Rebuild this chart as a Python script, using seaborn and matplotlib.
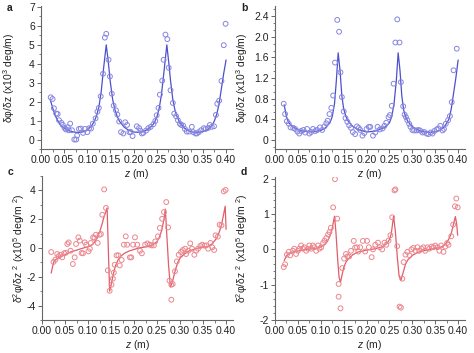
import matplotlib
matplotlib.use("Agg")
import matplotlib.pyplot as plt
import seaborn as sns
from matplotlib.ticker import MultipleLocator, AutoMinorLocator, FuncFormatter

sns.set_style("ticks")
plt.rcParams["font.family"] = ["Liberation Sans", "DejaVu Sans"]
plt.rcParams["mathtext.fontset"] = "custom"
plt.rcParams["mathtext.rm"] = "Liberation Sans"
plt.rcParams["mathtext.it"] = "Liberation Sans:italic"
plt.rcParams["axes.unicode_minus"] = False

BLUE_LINE = "#4f4fcc"
BLUE_MARK = "#8585e0"
RED_LINE = "#e25c6a"
RED_MARK = "#eb868d"

# ── panel a: first derivative, series 1 ──
a_z = [0.021, 0.025, 0.028, 0.033, 0.036, 0.039, 0.044, 0.047, 0.051, 0.054,
       0.058, 0.060, 0.063, 0.067, 0.072, 0.076, 0.078, 0.082, 0.086, 0.091,
       0.095, 0.100, 0.104, 0.108, 0.112, 0.118, 0.122, 0.125, 0.129, 0.134,
       0.138, 0.141, 0.146, 0.149, 0.153, 0.157, 0.162, 0.165, 0.169, 0.173,
       0.178, 0.182, 0.186, 0.191, 0.194, 0.198, 0.207, 0.212, 0.215, 0.218,
       0.221, 0.227, 0.232, 0.237, 0.243, 0.247, 0.250, 0.254, 0.257, 0.262,
       0.265, 0.269, 0.273, 0.276, 0.280, 0.285, 0.288, 0.292, 0.296, 0.300,
       0.303, 0.307, 0.311, 0.315, 0.320, 0.326, 0.329, 0.334, 0.337, 0.341,
       0.346, 0.352, 0.356, 0.361, 0.365, 0.369, 0.374, 0.378, 0.381, 0.385,
       0.390, 0.395, 0.399]
a_v = [2.23, 2.14, 1.65, 1.37, 1.35, 1.02, 0.88, 0.77, 0.61, 0.53,
       0.65, 0.49, 0.84, 0.49, 0.00, 0.00, 0.21, 0.56, 0.58, 0.35,
       0.56, 0.39, 0.60, 0.58, 0.84, 1.12, 1.47, 1.67, 2.28, 3.47,
       5.38, 5.58, 4.21, 3.33, 2.42, 1.79, 1.54, 1.32, 0.95, 0.39,
       0.32, 0.91, 0.77, 0.39, 0.40, 0.18, 0.70, 0.61, 0.47, 0.32,
       0.35, 0.47, 0.60, 0.67, 0.81, 0.98, 1.28, 1.67, 2.37, 3.11,
       4.21, 5.54, 5.30, 3.79, 2.60, 1.93, 1.37, 1.23, 1.02, 0.84,
       0.77, 0.74, 0.56, 0.42, 0.42, 0.67, 0.39, 0.32, 0.32, 0.39,
       0.49, 0.60, 0.56, 0.61, 0.77, 0.67, 0.70, 1.30, 1.89, 2.05,
       3.09, 4.98, 6.11]
a_fit_z = [0.020, 0.025, 0.030, 0.035, 0.040, 0.045, 0.050, 0.060, 0.070, 0.080,
           0.090, 0.100, 0.110, 0.115, 0.120, 0.125, 0.130, 0.135, 0.141, 0.145,
           0.150, 0.155, 0.160, 0.165, 0.170, 0.180, 0.190, 0.200, 0.210, 0.220,
           0.230, 0.240, 0.245, 0.250, 0.255, 0.260, 0.265, 0.272, 0.276, 0.280,
           0.285, 0.290, 0.295, 0.300, 0.310, 0.320, 0.330, 0.340, 0.350, 0.360,
           0.370, 0.375, 0.380, 0.385, 0.390, 0.395, 0.400]
a_fit_v = [2.10, 1.70, 1.30, 1.05, 0.85, 0.70, 0.60, 0.46, 0.40, 0.37,
           0.40, 0.50, 0.75, 0.95, 1.25, 1.70, 2.50, 3.70, 5.00, 4.20,
           3.00, 2.10, 1.55, 1.20, 0.95, 0.65, 0.48, 0.40, 0.38, 0.42,
           0.52, 0.72, 0.90, 1.15, 1.60, 2.30, 3.40, 5.00, 4.10, 3.10,
           2.10, 1.50, 1.15, 0.90, 0.60, 0.45, 0.38, 0.37, 0.42, 0.52,
           0.75, 1.00, 1.35, 1.90, 2.70, 3.50, 4.20]

# ── panel b: first derivative, series 2 ──
b_z = [0.019, 0.022, 0.026, 0.030, 0.034, 0.040, 0.044, 0.049, 0.053, 0.057,
       0.062, 0.066, 0.070, 0.075, 0.079, 0.083, 0.088, 0.092, 0.098, 0.103,
       0.108, 0.112, 0.115, 0.119, 0.123, 0.127, 0.131, 0.136, 0.140, 0.143,
       0.146, 0.150, 0.154, 0.158, 0.162, 0.166, 0.170, 0.175, 0.179, 0.183,
       0.186, 0.191, 0.195, 0.200, 0.205, 0.208, 0.214, 0.219, 0.224, 0.229,
       0.235, 0.239, 0.243, 0.248, 0.251, 0.255, 0.259, 0.263, 0.267, 0.272,
       0.275, 0.280, 0.283, 0.286, 0.289, 0.293, 0.296, 0.300, 0.304, 0.309,
       0.313, 0.317, 0.322, 0.326, 0.331, 0.335, 0.340, 0.344, 0.348, 0.353,
       0.357, 0.361, 0.366, 0.369, 0.373, 0.378, 0.382, 0.386, 0.390, 0.397]
b_v = [0.70, 0.50, 0.36, 0.31, 0.24, 0.23, 0.21, 0.16, 0.12, 0.17,
       0.19, 0.14, 0.21, 0.12, 0.15, 0.21, 0.17, 0.19, 0.24, 0.19,
       0.26, 0.32, 0.37, 0.50, 0.62, 0.86, 1.50, 2.33, 2.10, 1.31,
       0.83, 0.55, 0.42, 0.35, 0.28, 0.23, 0.15, 0.11, 0.26, 0.23,
       0.19, 0.08, 0.13, 0.21, 0.25, 0.25, 0.08, 0.14, 0.25, 0.20,
       0.22, 0.27, 0.33, 0.44, 0.48, 0.66, 1.09, 1.89, 2.34, 1.89,
       1.12, 0.65, 0.49, 0.44, 0.38, 0.31, 0.25, 0.19, 0.18, 0.18,
       0.19, 0.18, 0.14, 0.15, 0.12, 0.11, 0.14, 0.12, 0.17, 0.20,
       0.22, 0.27, 0.18, 0.21, 0.31, 0.38, 0.46, 0.73, 1.35, 1.77]
b_fit_z = [0.020, 0.025, 0.030, 0.040, 0.050, 0.060, 0.080, 0.100, 0.110, 0.120,
           0.125, 0.130, 0.134, 0.138, 0.142, 0.146, 0.150, 0.155, 0.160, 0.170,
           0.180, 0.200, 0.220, 0.240, 0.250, 0.255, 0.260, 0.265, 0.269, 0.273,
           0.277, 0.281, 0.285, 0.290, 0.300, 0.320, 0.340, 0.360, 0.370, 0.380,
           0.385, 0.390, 0.395, 0.400]
b_fit_v = [0.68, 0.45, 0.33, 0.24, 0.20, 0.17, 0.15, 0.18, 0.23, 0.33,
           0.45, 0.70, 1.15, 1.69, 1.35, 0.85, 0.60, 0.45, 0.36, 0.26,
           0.20, 0.15, 0.17, 0.24, 0.33, 0.45, 0.70, 1.15, 1.69, 1.35,
           0.85, 0.58, 0.45, 0.36, 0.25, 0.16, 0.14, 0.18, 0.25, 0.40,
           0.60, 0.90, 1.20, 1.55]

# ── panel c: second derivative, series 1 ──
c_z = [0.020, 0.025, 0.029, 0.033, 0.036, 0.040, 0.044, 0.048, 0.052, 0.055,
       0.058, 0.062, 0.067, 0.071, 0.074, 0.079, 0.082, 0.086, 0.089, 0.093,
       0.096, 0.101, 0.104, 0.106, 0.111, 0.114, 0.117, 0.121, 0.125, 0.128,
       0.131, 0.135, 0.139, 0.143, 0.147, 0.151, 0.154, 0.156, 0.158, 0.162,
       0.166, 0.169, 0.173, 0.178, 0.182, 0.185, 0.191, 0.194, 0.198, 0.202,
       0.207, 0.213, 0.217, 0.224, 0.229, 0.234, 0.238, 0.243, 0.246, 0.252,
       0.256, 0.261, 0.265, 0.270, 0.274, 0.277, 0.281, 0.281, 0.284, 0.289,
       0.293, 0.297, 0.302, 0.306, 0.311, 0.313, 0.318, 0.322, 0.326, 0.331,
       0.335, 0.339, 0.344, 0.348, 0.353, 0.357, 0.361, 0.366, 0.370, 0.374,
       0.377, 0.382, 0.386, 0.390, 0.395, 0.399]
c_v = [-0.28, -0.97, -0.81, -0.42, -0.58, -0.47, -0.65, -0.37, -0.33, 0.28,
       0.39, -0.19, -1.11, -0.65, 0.28, 0.74, 0.51, -0.35, -0.37, 0.39,
       0.23, -0.23, -0.05, 0.35, 0.74, 0.70, 0.92, 0.35, 0.92, 0.97,
       2.31, 4.07, 2.78, -1.55, -2.97, -2.55, -2.13, -1.71, -1.16, -0.51,
       -0.51, -1.21, -0.83, 0.23, 0.81, 0.23, -0.65, -0.65, 0.23, 0.74,
       0.23, -0.19, -0.37, 0.23, 0.32, 0.23, 0.18, 0.18, 0.46, 0.81,
       1.39, 2.03, 2.50, 3.19, 1.43, -2.27, -2.55, -3.59, -2.50, -1.62,
       -0.93, -0.47, -0.28, -0.14, -0.05, -0.42, -0.19, 0.32, -0.05, -0.47,
       -0.19, -0.05, 0.14, 0.23, 0.16, 0.18, -0.05, 0.35, 0.05, -0.14,
       0.88, 0.79, 1.62, 1.57, 3.93, 4.03]
c_fit_z = [0.020, 0.025, 0.030, 0.040, 0.050, 0.060, 0.070, 0.080, 0.090, 0.100,
           0.110, 0.115, 0.120, 0.125, 0.130, 0.135, 0.1415, 0.144, 0.147, 0.150,
           0.155, 0.160, 0.165, 0.170, 0.180, 0.190, 0.200, 0.210, 0.220, 0.230,
           0.240, 0.250, 0.255, 0.260, 0.265, 0.268, 0.271, 0.275, 0.279, 0.283,
           0.290, 0.295, 0.300, 0.310, 0.320, 0.340, 0.360, 0.370, 0.380, 0.385,
           0.390, 0.395, 0.398, 0.400]
c_fit_v = [-1.74, -1.00, -0.80, -0.60, -0.45, -0.30, -0.20, -0.10, 0.00, 0.08,
           0.25, 0.45, 0.70, 1.10, 1.60, 2.20, 2.78, 0.00, -3.00, -2.60,
           -1.80, -1.20, -0.85, -0.60, -0.35, -0.20, -0.10, 0.00, 0.05, 0.10,
           0.20, 0.45, 0.75, 1.20, 2.00, 2.70, 1.00, -1.20, -2.70, -2.40,
           -1.50, -1.00, -0.70, -0.40, -0.20, 0.00, 0.10, 0.30, 0.70, 1.10,
           1.60, 2.40, 2.90, 1.30]

# ── panel d: second derivative, series 2 ──
d_z = [0.019, 0.022, 0.026, 0.030, 0.033, 0.039, 0.042, 0.046, 0.050, 0.053,
       0.057, 0.061, 0.064, 0.068, 0.072, 0.075, 0.079, 0.083, 0.086, 0.090,
       0.094, 0.097, 0.101, 0.105, 0.108, 0.112, 0.116, 0.119, 0.122, 0.127,
       0.131, 0.136, 0.139, 0.139, 0.143, 0.147, 0.151, 0.155, 0.158, 0.162,
       0.166, 0.172, 0.175, 0.179, 0.182, 0.186, 0.192, 0.197, 0.201, 0.205,
       0.211, 0.214, 0.219, 0.225, 0.229, 0.234, 0.239, 0.243, 0.248, 0.252,
       0.256, 0.261, 0.263, 0.267, 0.272, 0.275, 0.278, 0.281, 0.285, 0.289,
       0.294, 0.298, 0.302, 0.307, 0.311, 0.315, 0.320, 0.324, 0.328, 0.333,
       0.337, 0.342, 0.346, 0.350, 0.355, 0.359, 0.363, 0.368, 0.372, 0.376,
       0.379, 0.385, 0.389, 0.393, 0.396, 0.399]
d_v = [-0.50, -0.42, -0.15, -0.07, -0.17, -0.04, 0.02, -0.13, -0.04, 0.02,
       0.11, 0.02, 0.06, -0.04, 0.02, 0.11, 0.02, 0.11, 0.06, -0.04,
       0.11, 0.02, 0.06, 0.18, 0.25, 0.32, 0.42, 0.49, 0.61, 1.19,
       1.99, 0.87, -0.98, -1.34, -1.67, -0.53, -0.26, -0.13, -0.20, -0.20,
       -0.04, 0.24, 0.05, 0.06, -0.06, 0.06, 0.24, -0.06, 0.24, 0.06,
       -0.22, 0.00, 0.13, 0.19, 0.06, 0.00, 0.19, 0.13, 0.25, 0.40,
       0.91, 1.67, 1.70, 0.09, -1.62, -1.65, -0.83, -0.36, -0.15, -0.07,
       -0.17, 0.00, 0.04, -0.04, 0.06, -0.04, 0.02, 0.06, -0.04, 0.06,
       0.02, 0.08, 0.06, 0.11, 0.06, -0.04, 0.11, -0.07, 0.08, 0.18,
       0.13, 0.37, 0.70, 1.22, 1.44, 1.19]
d_fit_z = [0.020, 0.025, 0.030, 0.040, 0.050, 0.070, 0.090, 0.100, 0.110, 0.115,
           0.120, 0.125, 0.130, 0.133, 0.137, 0.140, 0.143, 0.146, 0.150, 0.155,
           0.160, 0.170, 0.180, 0.200, 0.220, 0.235, 0.245, 0.250, 0.254, 0.259,
           0.263, 0.267, 0.271, 0.275, 0.279, 0.285, 0.290, 0.300, 0.310, 0.320,
           0.340, 0.360, 0.370, 0.375, 0.380, 0.385, 0.390, 0.394, 0.397, 0.399]
d_fit_v = [-0.32, -0.18, -0.12, -0.07, -0.04, 0.00, 0.03, 0.07, 0.15, 0.24,
           0.38, 0.60, 0.94, 0.50, -0.30, -0.80, -0.93, -0.75, -0.52, -0.36,
           -0.27, -0.15, -0.08, -0.02, 0.02, 0.08, 0.18, 0.28, 0.45, 0.94,
           0.50, -0.20, -0.75, -0.88, -0.70, -0.42, -0.30, -0.17, -0.10, -0.05,
           0.00, 0.05, 0.12, 0.20, 0.30, 0.45, 0.72, 0.93, 0.70, 0.40]

W, H = 474, 353
fig = plt.figure(figsize=(W / 100, H / 100), dpi=100)


def px_axes(left, top, right, bottom):
    ax = fig.add_axes([left / W, 1 - bottom / H, (right - left) / W, (bottom - top) / H])
    ax.patch.set_alpha(0)  # keep the panel above's x label visible
    return ax


def zero_fmt(fmt):
    return FuncFormatter(lambda v, p: "0" if abs(v) < 1e-9 else fmt.format(v))


def draw_panel(ax, z, v, fz, fv, line_c, mark_c, ylim, ymaj, yminor, yfmt, ylabel, lab_x):
    sns.lineplot(x=fz, y=fv, ax=ax, color=line_c, linewidth=0.9,
                 sort=False, estimator=None)
    sns.scatterplot(x=z, y=v, ax=ax, s=12, marker="o", facecolor="none",
                    edgecolor=mark_c, linewidth=0.7, zorder=3)
    ax.set_xlim(0, 0.415)
    ax.set_ylim(*ylim)
    ax.xaxis.set_major_locator(MultipleLocator(0.05))
    ax.xaxis.set_minor_locator(AutoMinorLocator(2))
    ax.xaxis.set_major_formatter(FuncFormatter(lambda v, p: f"{v:.2f}"))
    ax.yaxis.set_major_locator(MultipleLocator(ymaj))
    ax.yaxis.set_minor_locator(AutoMinorLocator(yminor))
    ax.yaxis.set_major_formatter(zero_fmt(yfmt))
    for s in ["top", "right"]:
        ax.spines[s].set_visible(False)
    for s in ["left", "bottom"]:
        ax.spines[s].set_color("#666666")
        ax.spines[s].set_linewidth(0.8)
    ax.tick_params(which="major", direction="out", length=3, width=0.7,
                   colors="#666666", labelcolor="#222222", labelsize=7.5, pad=1.5)
    ax.tick_params(which="minor", direction="out", length=1.8, width=0.6, colors="#666666")
    ax.set_xlabel("$z$ (m)", fontsize=7.5, labelpad=1, color="#222222")
    ax.set_ylabel(ylabel, fontsize=7.5, color="#222222")
    ax.yaxis.set_label_coords(lab_x, 0.5)


ax_a = px_axes(41, 6, 233, 149)
draw_panel(ax_a, a_z, a_v, a_fit_z, a_fit_v, BLUE_LINE, BLUE_MARK, (-0.5, 7.05), 1, 2, "{:.0f}",
           "δφ/δz (x10$^3$ deg/m)", -0.125)

ax_b = px_axes(275, 6, 465, 149)
draw_panel(ax_b, b_z, b_v, b_fit_z, b_fit_v, BLUE_LINE, BLUE_MARK, (-0.18, 2.6), 0.4, 3, "{:.1f}",
           "δφ/δz (x10$^3$ deg/m)", -0.13)

ax_c = px_axes(42, 176, 233, 320)
draw_panel(ax_c, c_z, c_v, c_fit_z, c_fit_v, RED_LINE, RED_MARK, (-5, 5), 2, 2, "{:.0f}",
           "δ$^2$φ/δz $^2$ (x10$^5$ deg/m $^2$)", -0.08)

ax_d = px_axes(275, 177, 465, 320)
draw_panel(ax_d, d_z, d_v, d_fit_z, d_fit_v, RED_LINE, RED_MARK, (-2, 2.05), 1, 5, "{:.0f}",
           "δ$^2$φ/δz $^2$ (x10$^5$ deg/m $^2$)", -0.13)

for lab, x, y in [("a", 10, 8), ("b", 244, 8), ("c", 11, 172), ("d", 244, 172)]:
    fig.text(x / W, 1 - y / H, lab, fontsize=7.5, fontweight="bold",
             ha="center", va="center", color="#222222")

fig.savefig("out.png", dpi=100)
